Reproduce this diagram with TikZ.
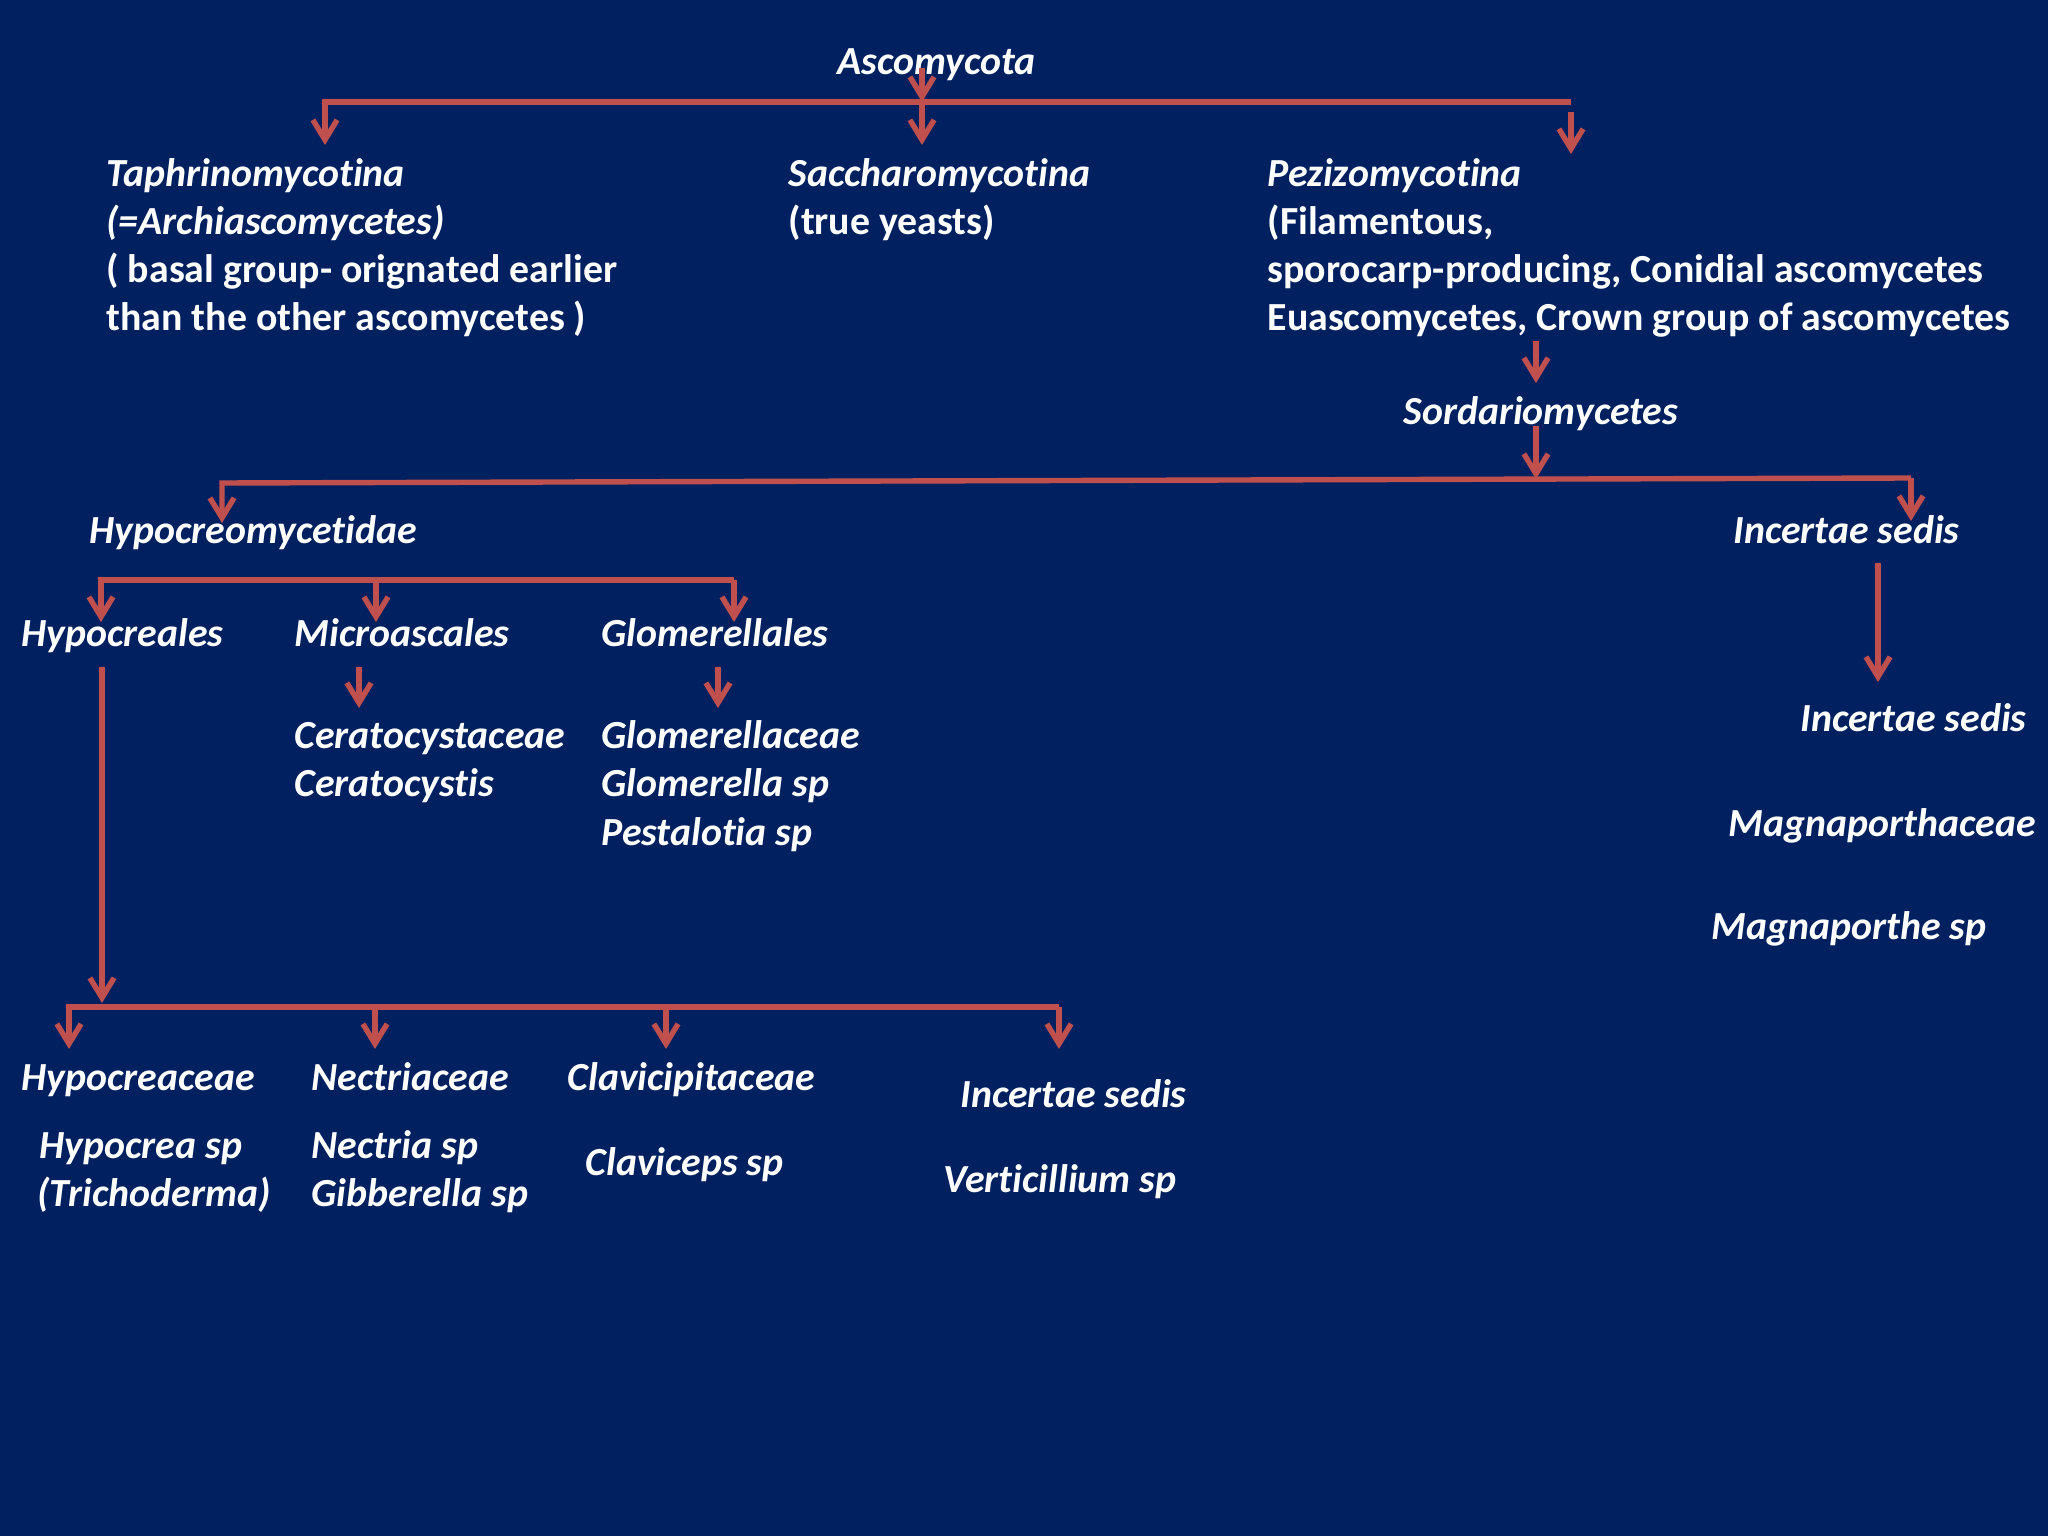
\documentclass[tikz,border=0pt]{standalone}
\usepackage{fontspec}
\setmainfont{Carlito}[Ligatures={NoCommon,NoContextual}]
\usetikzlibrary{arrows.meta}
\definecolor{bgblue}{HTML}{002060}
\definecolor{arrred}{HTML}{C0504D}
\begin{document}
\begin{tikzpicture}[x=0.35156pt,y=-0.35156pt,
  tx/.style={anchor=base west, inner sep=0pt, text=white, font=\fontsize{14}{17}\selectfont\bfseries\itshape},
  up/.style={anchor=base west, inner sep=0pt, text=white, font=\fontsize{14}{17}\selectfont\bfseries},
  conn/.style={draw=arrred, line width=1.9pt, line join=miter},
  arrow/.style={conn, -{Straight Barb[length=7pt,width=8.5pt]}}]
\fill[bgblue] (0,0) rectangle (2048,1536);
\useasboundingbox (0,0) rectangle (2048,1536);

% texts
\begin{scope}[yshift=-0.9pt]
\node[tx] (asco) at (837,72) {Ascomycota};
\node[tx] (taph1) at (106,184) {Taphrinomycotina};
\node[tx] (taph2) at (106,232) {(=Archiascomycetes)};
\node[up] (taph3) at (106,280) {( basal group- orignated earlier};
\node[up] (taph4) at (106,328) {than the other ascomycetes )};
\node[tx] (sacc1) at (788,184) {Saccharomycotina};
\node[up] (sacc2) at (788,232) {(true yeasts)};
\node[tx] (pezi1) at (1267,184) {Pezizomycotina};
\node[up] (pezi2) at (1267,232) {(Filamentous,};
\node[up] (pezi3) at (1267,280) {sporocarp-producing, Conidial ascomycetes};
\node[up] (pezi4) at (1267,328) {Euascomycetes, Crown group of ascomycetes};
\node[tx] (sord) at (1403,422) {Sordariomycetes};
\node[tx] (hypmyc) at (89,541) {Hypocreomycetidae};
\node[tx] (inc1) at (1733,541) {Incertae sedis};
\node[tx] (hypal) at (21,644) {Hypocreales};
\node[tx] (micro) at (294,644) {Microascales};
\node[tx] (glomal) at (601,644) {Glomerellales};
\node[tx] (cerat1) at (294,746) {Ceratocystaceae};
\node[tx] (cerat2) at (294,794) {Ceratocystis};
\node[tx] (glo1) at (601,746) {Glomerellaceae};
\node[tx] (glo2) at (601,794) {Glomerella sp};
\node[tx] (glo3) at (601,843) {Pestalotia sp};
\node[tx] (inc2) at (1800,729) {Incertae sedis};
\node[tx] (magna1) at (1728,834) {Magnaporthaceae};
\node[tx] (magna2) at (1711,937) {Magnaporthe sp};
\node[tx] (hypac) at (21,1088) {Hypocreaceae};
\node[tx] (nect) at (311,1088) {Nectriaceae};
\node[tx] (clav) at (567,1088) {Clavicipitaceae};
\node[tx] (inc3) at (960,1105) {Incertae sedis};
\node[tx] (hsp) at (39,1156) {Hypocrea sp};
\node[tx] (tri) at (37,1204) {(Trichoderma)};
\node[tx] (nsp) at (311,1156) {Nectria sp};
\node[tx] (gib) at (311,1204) {Gibberella sp};
\node[tx] (csp) at (585,1173) {Claviceps sp};
\node[tx] (vsp) at (943,1190) {Verticillium sp};
\end{scope}

% junction coordinates
\coordinate (aS) at (922,68);
\coordinate (aJ) at (922,102);
\coordinate (aL) at (325,102);
\coordinate (aR) at (1571,102);
\coordinate (aRs) at (1571,112);
\coordinate (pS) at (1536,341);
\coordinate (sS) at (1536,426);
\coordinate (sJ) at (1536,479);
\coordinate (sL) at (222,483);
\coordinate (sR) at (1911,478);
\coordinate (hL) at (101,580);
\coordinate (hM) at (376,580);
\coordinate (hR) at (734,580);
\coordinate (mS) at (359,667);
\coordinate (gS) at (718,667);
\coordinate (hyS) at (102,667);
\coordinate (bL) at (69,1007);
\coordinate (b2) at (375,1007);
\coordinate (b3) at (666,1007);
\coordinate (bR) at (1059,1007);
\coordinate (iS) at (1878,563);

% connectors
\draw[arrow] (aS) -- (aJ);
\draw[arrow] (aR) -- (aL) -- (aL |- 0,145);
\draw[arrow] (aJ) -- (aJ |- 0,145);
\draw[arrow] (aRs) -- (aRs |- 0,154);
\draw[arrow] (pS) -- (pS |- 0,383);
\draw[arrow] (sS) -- (sJ);
\draw[arrow] (sR) -- (sL) -- (sL |- 0,523);
\draw[arrow] (sR) -- (sR |- 0,521);
\draw[arrow] (hR) -- (hL) -- (hL |- 0,622);
\draw[arrow] (hM) -- (hM |- 0,622);
\draw[arrow] (hR) -- (hR |- 0,622);
\draw[arrow] (mS) -- (mS |- 0,708);
\draw[arrow] (gS) -- (gS |- 0,708);
\draw[arrow] (hyS) -- (hyS |- 0,1003);
\draw[arrow] (bR) -- (bL) -- (bL |- 0,1049);
\draw[arrow] (b2) -- (b2 |- 0,1049);
\draw[arrow] (b3) -- (b3 |- 0,1049);
\draw[arrow] (bR) -- (bR |- 0,1049);
\draw[arrow] (iS) -- (iS |- 0,682);
\end{tikzpicture}
\end{document}
